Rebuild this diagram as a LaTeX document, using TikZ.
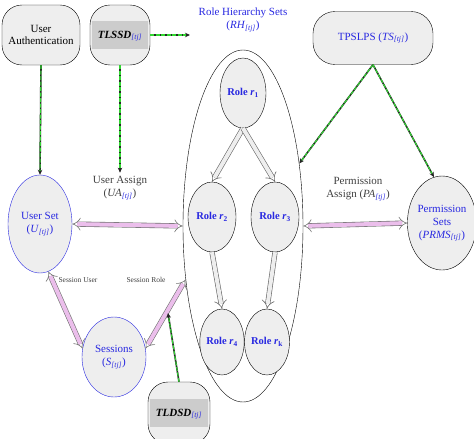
\documentclass[tikz,border=0pt]{standalone}
\usepackage{fontspec}
\setmainfont{Liberation Serif}
\usetikzlibrary{arrows.meta}
\usetikzlibrary{shapes.geometric}
\usetikzlibrary{positioning}
\definecolor{setblue}{RGB}{40,40,225}
\definecolor{boxgray}{RGB}{238,238,238}
\definecolor{dashgreen}{RGB}{50,215,50}
\definecolor{assignpink}{RGB}{235,190,235}
\newcommand{\tj}{\textsubscript{\textcolor{setblue}{\textit{[tj]}}}}

\begin{document}
\begin{tikzpicture}[x=1pt,y=-1pt,
	box/.style={draw, fill=boxgray, rounded corners=20pt, align=center, font=\fontsize{11}{12.5}\selectfont},
	setnode/.style={ellipse, draw=setblue, fill=boxgray, inner sep=0pt, align=center, text=setblue, font=\fontsize{11}{13}\selectfont},
	rolenode/.style={ellipse, draw, fill=boxgray, inner sep=0pt, text=setblue, font=\bfseries\fontsize{10.5}{12}\selectfont},
	lbl/.style={align=center, text=black!75, font=\fontsize{11}{13}\selectfont},
	small/.style={text=black!75, font=\fontsize{7.5}{9}\selectfont},
	ctrl/.style={draw=black!85, line width=1.6pt, -{Stealth[length=5pt,width=4.5pt]},
		postaction={draw=dashgreen, line width=1.1pt, dash pattern=on 4pt off 1.5pt, -, shorten >=4pt}},
	assign/.style={draw=black!55, line width=0.6pt, double=assignpink, double distance=4pt, {Implies}-{Implies}},
	inherit/.style={draw=black!60, line width=0.6pt, double=boxgray, double distance=4pt, -{Implies}}]
					\useasboundingbox (0,0) rectangle (474,439);
					\clip (0,0) rectangle (474,439);
					
					% Role hierarchy
					\node[ellipse, draw, minimum width=120pt, minimum height=352pt] (rh) at (243,226) {};
					\node[lbl, text=setblue] (rhlabel) at (243,20) {Role Hierarchy Sets\\(\textit{RH}\tj)};
					\node[rolenode, minimum width=46pt, minimum height=70pt] (r1) at (243,93) {Role \textit{r}\textsubscript{1}};
					\node[rolenode, minimum width=48pt, minimum height=70pt] (r2) at (212,217) {Role \textit{r}\textsubscript{2}};
					\node[rolenode, minimum width=48pt, minimum height=70pt] (r3) at (275,217) {Role \textit{r}\textsubscript{3}};
					\node[rolenode, minimum width=40pt, minimum height=66pt] (r4) at (222,342) {Role \textit{r}\textsubscript{4}};
					\node[rolenode, minimum width=40pt, minimum height=66pt] (rk) at (267,342) {Role \textit{r}\textsubscript{k}};
					\draw[inherit] (r1.south) -- (r2.north);
					\draw[inherit] (r1.south) -- (r3.north);
					\draw[inherit] (r2.south) -- (r4.north);
					\draw[inherit] (r3.south) -- (rk.north);
					
					% Boxes
					\node[box, minimum width=78pt, minimum height=60pt] (auth) at (41,35) {User\\Authentication};
					\node[box, minimum width=60pt, minimum height=60pt, inner sep=0pt] (tlssd) at (120,35) {\fboxsep=6pt\colorbox{gray!40}{\textbf{\textit{TLSSD}}\tj\rule[-5pt]{0pt}{16pt}}};
					\node[box, minimum width=120pt, minimum height=53pt, rounded corners=22pt, text=setblue] (tpslps) at (373,38) {TPSLPS (\textit{TS}\tj)};
					\node[box, minimum width=62pt, minimum height=62pt, inner sep=0pt] (tldsd) at (179,413) {\fboxsep=6pt\colorbox{gray!40}{\textbf{\textit{TLDSD}}\tj\rule[-5pt]{0pt}{16pt}}};
					
					% Sets
					\node[setnode, minimum width=64pt, minimum height=98pt] (user) at (40,224) {User Set\\(\textit{U}\tj)};
					\node[setnode, minimum width=64pt, minimum height=80pt] (sess) at (114,357) {Sessions\\(\textit{S}\tj)};
					\node[setnode, draw=black, minimum width=60pt, minimum height=94pt] (perm) at (442,223) {Permission\\Sets\\(\textit{PRMS}\tj)};
					
					% Labels
					\node[lbl] (ua) at (120,188) {User Assign\\(\textit{UA}\tj)};
					\node[lbl] (pa) at (358,189) {Permission\\Assign (\textit{PA}\tj)};
					\node[small] (su) at (78,280) {Session User};
					\node[small] (sr) at (146,280) {Session Role};
					
					% Assignments
					\draw[assign] (user.east) -- (rh.west);
					\draw[assign] (rh.east) -- (perm.west);
					\draw[assign] (user.-80) -- (sess.165);
					\draw[assign] (sess.15) -- (rh.223);
					
					% Constraints
					\coordinate (rhin) at (190,35);
					\coordinate (srin) at (168,313);
					\draw[ctrl] (auth.south) -- (user.north);
					\draw[ctrl] (tlssd.south) -- (ua.north);
					\draw[ctrl] (tlssd.east) -- (rhin);
					\draw[ctrl] (tpslps.south) -- (rh.48);
					\draw[ctrl] (tpslps.south) -- (perm.100);
					\draw[ctrl] (tldsd.north) -- (srin);
				\end{tikzpicture}
\end{document}
